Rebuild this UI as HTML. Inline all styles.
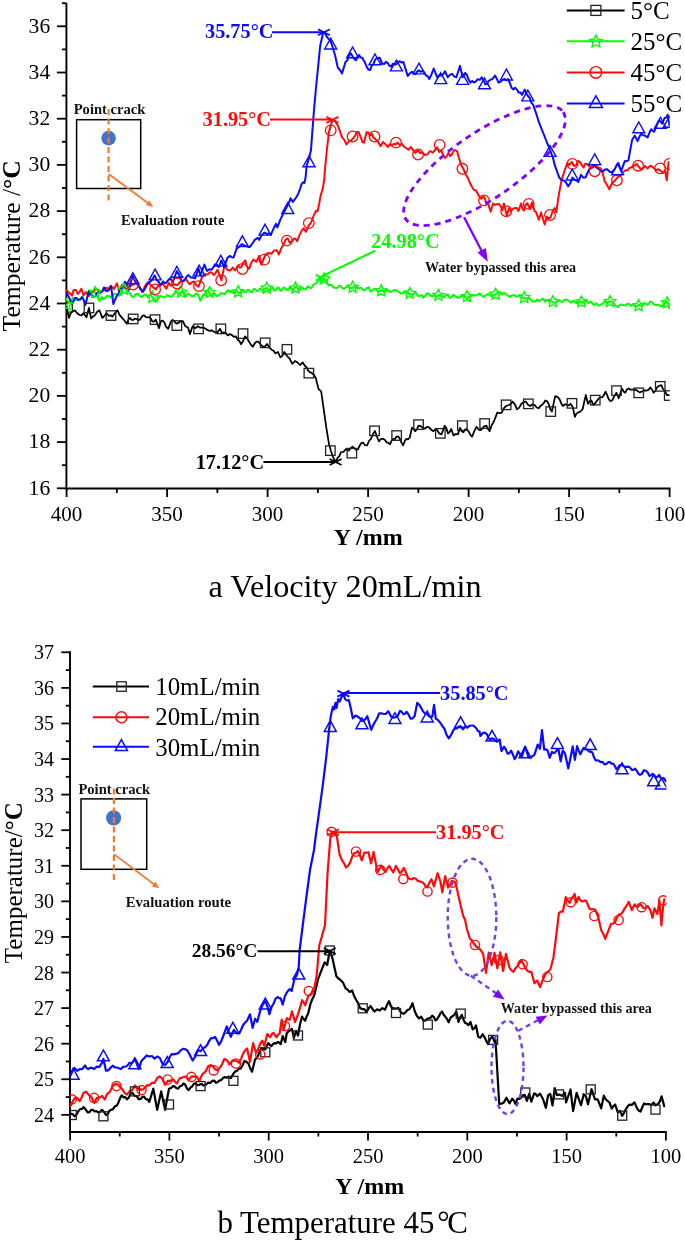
<!DOCTYPE html>
<html><head><meta charset="utf-8"><title>Temperature charts</title>
<style>html,body{margin:0;padding:0;background:#fff;}svg{display:block;}</style></head>
<body>
<svg width="685" height="1240" viewBox="0 0 685 1240" font-family="'Liberation Serif', 'Times New Roman', serif">
<rect width="685" height="1240" fill="#fff"/>
<line x1="66.4" y1="3.1" x2="66.4" y2="489.5" stroke="#000" stroke-width="1.9" />
<line x1="65.4" y1="488.5" x2="670.5" y2="488.5" stroke="#000" stroke-width="1.9" />
<line x1="56.9" y1="488.3" x2="66.4" y2="488.3" stroke="#000" stroke-width="1.8" />
<text x="50.2" y="494.6" font-size="21.6" text-anchor="end" font-weight="normal" fill="#000" >16</text>
<line x1="61.9" y1="465.2" x2="66.4" y2="465.2" stroke="#000" stroke-width="1.8" />
<line x1="56.9" y1="442.1" x2="66.4" y2="442.1" stroke="#000" stroke-width="1.8" />
<text x="50.2" y="448.4" font-size="21.6" text-anchor="end" font-weight="normal" fill="#000" >18</text>
<line x1="61.9" y1="419.0" x2="66.4" y2="419.0" stroke="#000" stroke-width="1.8" />
<line x1="56.9" y1="395.9" x2="66.4" y2="395.9" stroke="#000" stroke-width="1.8" />
<text x="50.2" y="402.2" font-size="21.6" text-anchor="end" font-weight="normal" fill="#000" >20</text>
<line x1="61.9" y1="372.8" x2="66.4" y2="372.8" stroke="#000" stroke-width="1.8" />
<line x1="56.9" y1="349.7" x2="66.4" y2="349.7" stroke="#000" stroke-width="1.8" />
<text x="50.2" y="356.0" font-size="21.6" text-anchor="end" font-weight="normal" fill="#000" >22</text>
<line x1="61.9" y1="326.6" x2="66.4" y2="326.6" stroke="#000" stroke-width="1.8" />
<line x1="56.9" y1="303.5" x2="66.4" y2="303.5" stroke="#000" stroke-width="1.8" />
<text x="50.2" y="309.8" font-size="21.6" text-anchor="end" font-weight="normal" fill="#000" >24</text>
<line x1="61.9" y1="280.4" x2="66.4" y2="280.4" stroke="#000" stroke-width="1.8" />
<line x1="56.9" y1="257.3" x2="66.4" y2="257.3" stroke="#000" stroke-width="1.8" />
<text x="50.2" y="263.6" font-size="21.6" text-anchor="end" font-weight="normal" fill="#000" >26</text>
<line x1="61.9" y1="234.2" x2="66.4" y2="234.2" stroke="#000" stroke-width="1.8" />
<line x1="56.9" y1="211.1" x2="66.4" y2="211.1" stroke="#000" stroke-width="1.8" />
<text x="50.2" y="217.4" font-size="21.6" text-anchor="end" font-weight="normal" fill="#000" >28</text>
<line x1="61.9" y1="188.0" x2="66.4" y2="188.0" stroke="#000" stroke-width="1.8" />
<line x1="56.9" y1="164.9" x2="66.4" y2="164.9" stroke="#000" stroke-width="1.8" />
<text x="50.2" y="171.2" font-size="21.6" text-anchor="end" font-weight="normal" fill="#000" >30</text>
<line x1="61.9" y1="141.8" x2="66.4" y2="141.8" stroke="#000" stroke-width="1.8" />
<line x1="56.9" y1="118.7" x2="66.4" y2="118.7" stroke="#000" stroke-width="1.8" />
<text x="50.2" y="125.0" font-size="21.6" text-anchor="end" font-weight="normal" fill="#000" >32</text>
<line x1="61.9" y1="95.6" x2="66.4" y2="95.6" stroke="#000" stroke-width="1.8" />
<line x1="56.9" y1="72.5" x2="66.4" y2="72.5" stroke="#000" stroke-width="1.8" />
<text x="50.2" y="78.8" font-size="21.6" text-anchor="end" font-weight="normal" fill="#000" >34</text>
<line x1="61.9" y1="49.4" x2="66.4" y2="49.4" stroke="#000" stroke-width="1.8" />
<line x1="56.9" y1="26.3" x2="66.4" y2="26.3" stroke="#000" stroke-width="1.8" />
<text x="50.2" y="32.6" font-size="21.6" text-anchor="end" font-weight="normal" fill="#000" >36</text>
<line x1="61.9" y1="3.2" x2="66.4" y2="3.2" stroke="#000" stroke-width="1.8" />
<line x1="669.6" y1="488.5" x2="669.6" y2="497.0" stroke="#000" stroke-width="1.8" />
<text x="669.6" y="520.6" font-size="21" text-anchor="middle" font-weight="normal" fill="#000" >100</text>
<line x1="619.35" y1="488.5" x2="619.35" y2="493.0" stroke="#000" stroke-width="1.8" />
<line x1="569.1" y1="488.5" x2="569.1" y2="497.0" stroke="#000" stroke-width="1.8" />
<text x="569.1" y="520.6" font-size="21" text-anchor="middle" font-weight="normal" fill="#000" >150</text>
<line x1="518.85" y1="488.5" x2="518.85" y2="493.0" stroke="#000" stroke-width="1.8" />
<line x1="468.6" y1="488.5" x2="468.6" y2="497.0" stroke="#000" stroke-width="1.8" />
<text x="468.6" y="520.6" font-size="21" text-anchor="middle" font-weight="normal" fill="#000" >200</text>
<line x1="418.35" y1="488.5" x2="418.35" y2="493.0" stroke="#000" stroke-width="1.8" />
<line x1="368.1" y1="488.5" x2="368.1" y2="497.0" stroke="#000" stroke-width="1.8" />
<text x="368.1" y="520.6" font-size="21" text-anchor="middle" font-weight="normal" fill="#000" >250</text>
<line x1="317.85" y1="488.5" x2="317.85" y2="493.0" stroke="#000" stroke-width="1.8" />
<line x1="267.6" y1="488.5" x2="267.6" y2="497.0" stroke="#000" stroke-width="1.8" />
<text x="267.6" y="520.6" font-size="21" text-anchor="middle" font-weight="normal" fill="#000" >300</text>
<line x1="217.35" y1="488.5" x2="217.35" y2="493.0" stroke="#000" stroke-width="1.8" />
<line x1="167.1" y1="488.5" x2="167.1" y2="497.0" stroke="#000" stroke-width="1.8" />
<text x="167.1" y="520.6" font-size="21" text-anchor="middle" font-weight="normal" fill="#000" >350</text>
<line x1="116.85" y1="488.5" x2="116.85" y2="493.0" stroke="#000" stroke-width="1.8" />
<line x1="66.6" y1="488.5" x2="66.6" y2="497.0" stroke="#000" stroke-width="1.8" />
<text x="66.6" y="520.6" font-size="21" text-anchor="middle" font-weight="normal" fill="#000" >400</text>
<text x="368.2" y="544.8" font-size="24" text-anchor="middle" font-weight="bold" fill="#000" >Y /mm</text>
<text x="345" y="596.5" font-size="32.2" text-anchor="middle" font-weight="normal" fill="#000" >a Velocity 20mL/min</text>
<text transform="translate(19.5,245.8) rotate(-90)" font-size="25.6" text-anchor="middle">Temperature /<tspan font-weight="bold">°C</tspan></text>
<defs><clipPath id="ct"><rect x="66" y="0" width="603.8" height="489"/></clipPath><clipPath id="cb"><rect x="70" y="640" width="596.4" height="492"/></clipPath></defs>
<g clip-path="url(#ct)">
<polyline points="66.7,307.4 69.0,317.9 70.5,313.7 72.0,312.0 74.8,310.3 77.0,313.0 79.5,315.0 81.5,315.4 83.6,313.2 86.5,317.3 88.9,308.0 91.2,318.5 93.0,316.6 94.7,315.6 97.0,312.0 99.4,310.3 102.3,317.9 104.3,316.0 106.4,313.2 109.0,316.0 110.6,315.2 112.2,316.7 115.0,313.0 117.5,310.3 119.5,314.9 121.6,317.3 124.0,320.0 126.8,323.7 128.3,319.8 129.8,317.9 131.4,319.6 133.0,320.0 134.9,318.6 136.8,319.0 138.4,320.2 140.0,319.6 142.6,315.7 144.2,315.4 145.9,317.0 147.6,317.5 149.2,317.0 150.8,318.5 152.5,321.6 154.2,321.3 155.8,319.6 159.0,328.2 161.0,321.0 162.7,320.6 164.3,322.3 166.2,326.8 168.2,328.8 170.9,321.6 172.6,320.0 174.2,321.0 175.8,323.2 177.4,323.6 179.4,322.3 181.1,320.9 182.7,321.0 185.3,326.2 188.0,327.5 189.9,334.1 192.6,326.2 195.2,328.2 197.8,326.2 199.8,327.5 201.8,327.5 203.8,327.7 205.7,328.8 207.6,330.2 209.6,330.8 211.6,330.3 213.6,331.5 215.6,332.5 217.5,332.1 220.1,328.8 222.1,333.4 223.8,332.4 225.4,332.8 228.0,335.4 230.0,334.1 231.8,335.0 233.8,336.9 235.8,336.3 238.0,340.0 239.5,341.2 241.0,344.2 243.0,341.2 245.0,336.3 246.9,338.3 248.9,341.5 250.9,344.6 252.8,346.8 255.0,343.0 256.6,341.6 258.1,341.5 261.0,345.0 262.9,346.4 264.7,346.8 267.0,344.0 269.9,348.1 272.0,350.0 273.6,350.8 275.2,353.4 278.0,352.0 280.4,357.3 282.4,355.9 284.4,352.0 287.0,356.0 289.6,358.6 292.3,363.9 295.0,361.0 297.5,362.5 300.0,365.0 302.8,362.5 305.0,366.0 306.5,367.2 308.0,370.4 310.0,372.3 312.0,373.1 314.0,375.0 315.9,378.3 317.0,383.0 318.5,388.8 321.2,391.5 323.8,409.8 326.4,428.2 329.0,444.0 331.0,451.0 333.0,457.1 335.6,461.9 337.5,458.0 339.5,455.8 341.0,452.0 343.5,451.9 346.0,449.0 348.7,450.6 351.0,448.0 352.5,446.7 354.0,447.9 355.9,449.7 357.9,449.3 360.0,445.0 361.6,442.8 363.2,442.7 365.1,445.2 367.1,445.3 369.0,441.0 371.1,438.7 373.0,434.0 375.0,430.9 377.0,437.0 379.0,441.4 380.9,439.0 382.9,438.7 385.0,440.0 386.6,442.5 388.2,442.7 390.0,444.3 391.6,440.8 393.3,438.8 395.0,439.0 396.6,436.6 398.2,436.4 399.9,438.8 401.5,442.6 403.1,445.4 404.8,441.0 406.4,438.8 408.0,439.3 409.7,437.7 411.9,427.9 413.5,428.7 415.2,431.2 416.9,429.3 418.5,425.7 420.6,426.0 422.8,427.9 425.0,428.6 427.2,426.8 429.4,427.6 431.6,430.1 433.4,431.2 435.3,429.4 437.1,430.1 439.3,433.4 441.5,434.4 444.7,425.7 446.4,428.3 448.0,433.4 449.6,432.0 451.3,429.0 453.5,435.5 455.7,434.0 457.9,434.4 460.1,427.9 461.8,431.3 463.4,432.3 465.0,429.6 466.6,429.0 469.0,432.0 470.6,435.1 472.1,436.6 474.3,431.1 476.5,426.8 479.0,430.0 480.5,430.2 482.0,429.0 484.1,426.3 486.3,425.7 488.0,429.0 489.6,431.2 491.8,425.0 494.0,421.3 497.3,412.6 499.5,413.2 501.7,412.6 503.9,408.1 506.1,406.0 509.0,405.0 510.8,404.0 512.6,401.6 514.8,404.2 517.0,409.3 519.2,407.6 521.4,403.8 523.6,401.9 525.8,401.6 528.0,404.7 530.1,406.0 532.2,404.5 534.4,404.9 536.6,407.5 538.8,408.2 540.4,405.9 542.0,404.9 543.6,403.3 545.3,400.5 547.0,401.3 548.6,403.8 550.2,408.9 551.9,411.5 555.2,396.1 557.4,396.8 559.6,399.4 561.2,403.2 562.8,406.0 565.0,404.3 567.2,404.9 568.9,405.4 570.5,403.8 572.7,407.1 574.9,416.9 576.5,413.5 578.2,412.6 580.4,411.5 582.6,409.3 585.8,395.0 588.0,403.8 589.6,401.1 591.3,400.5 593.5,404.9 595.7,402.6 597.9,399.4 600.1,397.3 602.3,397.2 603.9,395.1 605.5,391.7 607.1,395.0 608.8,399.4 610.5,401.1 612.1,400.5 614.3,396.2 616.5,392.8 618.7,398.3 622.0,388.5 623.6,391.5 625.2,392.8 626.9,389.5 628.5,388.5 630.7,389.7 632.9,389.6 635.1,389.6 637.3,390.7 639.5,392.4 641.7,391.7 643.9,390.4 646.0,390.7 648.2,390.1 650.4,387.4 652.0,389.7 653.7,392.8 655.4,390.8 657.0,387.4 659.2,385.8 661.4,385.2 663.0,389.0 664.7,390.7 666.9,395.0 669.0,395.0" fill="none" stroke="#000" stroke-width="1.75" stroke-linejoin="round" stroke-linecap="round" />
<polyline points="66.5,305.0 68.3,302.2 70.2,301.0 73.0,298.0 74.5,300.2 76.0,300.0 77.8,298.6 79.5,299.2 81.2,298.9 83.0,296.0 84.8,293.4 86.5,293.4 88.2,294.8 90.0,295.0 92.3,292.7 94.7,291.6 97.0,296.0 99.4,301.0 102.0,297.0 103.5,299.1 105.0,298.0 106.8,296.0 108.7,295.7 110.3,297.2 112.0,297.0 114.0,293.7 116.0,294.0 118.2,295.7 120.4,295.1 122.0,292.0 123.5,288.2 125.0,287.5 126.5,290.9 128.0,292.0 130.0,293.1 132.0,296.9 134.0,296.2 136.0,294.0 138.0,293.7 140.0,296.0 141.9,297.0 143.9,294.7 145.9,294.8 147.9,297.3 150.5,294.0 153.1,298.6 155.1,301.1 157.1,300.6 159.1,296.9 161.0,296.0 163.0,297.3 165.0,297.3 166.9,295.2 168.9,296.0 170.9,296.9 172.8,295.3 175.5,292.0 177.4,292.4 179.4,294.7 182.0,290.7 184.0,293.9 186.0,296.0 187.9,293.7 189.9,294.7 191.9,296.5 193.9,296.0 195.9,293.6 197.8,294.0 200.4,300.6 203.1,294.7 204.8,295.0 206.6,290.6 208.3,290.7 209.9,294.7 211.6,295.3 213.2,293.6 214.9,294.0 216.9,296.2 218.8,295.3 220.8,293.2 222.8,293.4 224.8,294.1 226.7,291.4 228.3,290.1 230.0,292.0 231.0,291.0 232.5,292.7 234.0,293.0 235.5,291.3 237.0,291.0 238.5,292.8 240.0,293.0 241.5,289.7 243.0,290.0 244.5,292.1 246.0,292.0 247.5,289.7 249.0,290.0 250.5,291.9 252.0,292.0 253.5,289.3 255.0,289.0 256.5,291.0 258.0,291.0 259.5,289.0 261.0,289.0 262.5,291.3 264.0,291.0 265.5,288.2 267.0,288.0 268.5,290.7 270.0,290.0 271.5,287.6 273.0,288.0 274.5,290.7 276.0,290.0 277.5,287.4 279.0,288.0 280.5,290.8 282.0,290.0 283.5,287.6 285.0,288.0 286.5,289.7 288.0,290.0 289.5,287.4 291.0,288.0 292.5,290.3 294.0,289.0 295.5,286.3 297.0,287.0 298.5,289.8 300.0,290.0 301.5,287.6 303.0,288.0 304.5,289.3 306.0,289.0 307.5,286.4 309.0,287.0 310.5,288.3 312.0,287.0 313.5,284.6 315.0,284.0 316.5,283.1 318.0,281.0 319.5,278.9 321.0,280.0 322.5,281.3 324.0,279.0 325.5,280.3 327.0,283.0 328.5,285.5 330.0,285.0 331.5,284.9 333.0,287.0 335.8,288.1 337.4,287.8 339.0,286.0 340.5,286.1 342.0,288.0 344.1,288.9 346.3,286.7 348.1,285.7 350.0,288.0 352.0,288.1 354.0,287.0 355.8,286.1 357.6,288.3 359.4,288.1 361.2,287.6 363.0,290.0 365.0,290.0 367.0,288.0 368.8,287.3 370.7,291.6 372.5,290.7 374.2,288.7 376.0,289.0 378.0,291.8 380.0,291.0 381.9,290.0 383.8,291.4 385.7,290.7 387.9,290.1 390.0,292.0 392.0,291.6 394.0,290.0 396.4,290.2 398.8,292.0 400.9,293.6 403.0,293.0 405.0,291.2 407.0,292.0 409.5,294.0 412.0,294.6 414.0,293.2 416.0,293.0 418.0,296.1 420.0,296.0 421.7,295.0 423.4,297.7 425.1,295.9 427.1,293.3 429.0,294.0 431.0,296.0 433.0,296.0 434.7,294.7 436.5,296.8 438.2,295.4 440.1,294.8 442.0,297.0 444.0,297.3 446.0,295.0 447.8,294.5 449.6,297.9 451.4,297.3 453.2,294.9 455.0,296.0 457.5,297.7 460.0,297.0 462.2,295.4 464.5,295.9 466.8,297.9 469.0,297.0 471.0,295.2 473.0,295.0 475.3,295.7 477.6,294.6 479.8,293.5 482.0,296.0 484.0,296.7 486.0,295.0 488.4,294.2 490.8,295.9 493.2,295.6 495.7,294.2 497.9,292.5 500.0,293.0 502.1,294.2 504.2,292.8 507.0,295.0 509.9,297.0 511.9,295.4 514.0,295.0 516.2,296.6 518.5,295.6 520.2,295.0 522.0,297.0 524.5,298.4 527.0,298.5 529.0,297.9 531.0,300.0 533.2,301.8 535.5,301.3 537.3,299.5 539.2,301.4 541.0,300.0 543.0,298.5 544.9,301.4 546.9,299.9 549.0,299.9 551.0,301.0 553.2,302.5 555.5,302.7 557.8,300.5 560.0,301.0 562.0,302.2 564.0,299.9 566.5,299.6 569.0,301.0 571.1,302.7 573.3,300.8 575.4,302.7 577.3,303.4 579.1,301.2 581.0,302.0 582.9,302.7 584.9,300.5 586.8,301.3 588.5,303.2 590.3,301.5 592.0,303.0 594.1,304.9 596.1,303.2 598.2,305.6 600.6,304.9 603.0,303.0 605.2,301.2 607.4,303.3 609.6,301.3 611.8,301.7 614.0,304.0 616.0,306.3 618.1,307.0 620.5,304.4 623.0,305.0 625.2,305.6 627.3,303.7 629.5,304.2 631.3,305.9 633.2,304.0 635.0,306.0 637.0,306.5 638.9,304.8 640.9,305.6 642.6,306.0 644.3,302.9 646.0,304.0 648.1,304.7 650.2,301.5 652.3,302.7 654.1,304.6 656.0,305.0 658.4,304.7 660.8,306.4 662.4,306.6 664.0,304.0 666.0,301.7 667.9,302.7 669.3,308.4" fill="none" stroke="#00ff00" stroke-width="2.0" stroke-linejoin="round" stroke-linecap="round" />
<polyline points="66.7,290.4 69.0,293.0 70.5,293.7 72.0,295.7 73.7,289.9 76.0,290.0 78.0,294.0 79.7,291.8 81.3,288.7 83.6,295.1 86.0,292.0 88.9,296.0 90.5,293.2 92.0,292.0 93.5,291.0 95.0,289.0 97.2,289.4 99.4,290.7 101.7,291.1 104.0,290.0 106.0,287.7 107.9,289.0 109.9,286.8 112.0,286.8 114.0,289.0 116.9,283.4 119.2,291.0 122.0,285.0 124.0,286.0 126.2,288.3 128.3,289.4 130.2,286.3 132.0,285.0 134.1,284.5 136.2,282.8 138.1,284.9 140.0,288.1 142.6,292.0 145.3,285.5 147.9,282.2 150.5,284.8 153.1,287.4 155.8,289.4 158.4,285.5 160.4,285.0 162.3,283.5 164.3,285.6 166.3,288.8 168.9,282.8 170.6,285.4 172.2,285.5 173.8,284.0 175.5,284.8 177.4,284.9 179.4,282.8 181.4,280.7 183.4,280.9 186.0,278.9 187.9,282.1 189.9,284.2 191.9,282.2 193.9,281.5 196.2,285.1 198.5,286.8 201.8,277.6 203.8,274.9 205.7,274.3 207.6,274.5 209.6,272.3 211.6,272.5 213.6,275.0 215.6,272.8 217.5,269.7 221.5,280.2 224.1,267.1 225.8,267.5 227.4,269.7 230.0,270.5 232.9,267.6 235.1,270.5 238.0,265.4 239.5,267.5 241.0,267.6 243.1,263.2 245.3,260.3 246.8,266.1 249.0,269.0 251.2,263.2 253.4,259.6 256.3,261.8 259.2,255.9 261.4,264.7 263.6,258.8 265.8,254.5 268.7,253.0 271.6,253.7 273.8,250.8 276.7,250.1 278.9,254.5 281.1,248.6 283.3,245.0 285.5,239.9 287.7,238.4 289.9,242.8 292.0,241.3 294.2,238.4 295.7,239.0 297.2,241.3 299.3,235.5 301.5,231.1 303.7,228.2 305.9,231.8 308.8,225.3 310.3,223.7 311.8,220.9 313.9,215.0 316.1,210.7 317.6,211.4 319.0,204.8 320.5,196.1 322.7,188.8 324.2,180.0 325.1,167.5 326.9,150.0 328.9,132.1 331.5,123.4 332.4,119.9 335.0,121.0 337.7,125.1 340.0,131.0 342.0,137.4 344.2,139.6 346.4,144.4 349.0,141.0 350.8,140.8 352.6,139.1 355.0,136.0 356.9,132.1 358.7,132.1 361.0,138.0 362.5,142.1 364.0,142.6 366.6,132.1 368.3,132.5 370.0,135.6 372.0,134.0 373.6,137.6 375.3,139.1 378.0,142.0 380.6,146.1 383.0,142.0 385.8,144.4 388.0,147.0 389.6,144.3 391.1,145.3 394.0,144.0 395.6,144.7 397.2,142.6 400.0,145.0 401.7,143.7 403.4,146.1 406.0,148.0 408.6,149.6 411.0,147.0 413.9,151.4 415.4,152.9 417.0,150.9 418.5,150.6 420.0,153.0 422.3,152.6 425.0,155.0 427.5,154.4 430.0,151.0 432.8,152.6 435.0,150.0 437.2,147.4 439.0,152.0 441.5,150.9 443.0,155.0 445.0,157.9 446.8,156.4 448.5,152.6 450.0,156.0 452.0,154.4 453.5,150.8 455.0,150.0 457.2,151.3 459.0,158.0 461.5,165.9 463.0,168.0 465.9,174.7 468.0,178.0 469.9,183.0 471.8,186.4 474.0,190.0 475.8,190.4 477.6,193.3 480.0,197.9 481.5,198.8 483.0,196.6 484.7,197.8 486.4,204.2 488.0,203.1 490.7,211.7 493.0,203.5 494.8,204.9 496.6,204.3 499.0,204.0 500.7,206.2 502.4,210.4 504.0,203.6 506.8,215.7 509.0,208.6 510.8,211.1 512.6,209.1 515.0,207.9 516.8,208.0 518.5,211.0 521.0,203.5 522.5,209.0 524.0,210.5 525.6,205.0 527.2,203.2 530.0,209.0 532.0,202.6 534.5,211.0 536.0,212.1 538.9,219.8 541.0,212.5 544.7,224.4 547.0,216.7 548.8,218.6 550.6,217.3 553.0,210.2 554.7,208.1 556.4,212.0 558.0,200.0 559.3,192.2 561.0,183.0 562.3,177.6 565.2,168.8 567.3,163.0 569.0,165.0 571.9,162.0 574.0,166.0 576.4,164.8 578.0,161.0 580.0,162.0 581.9,165.3 583.7,167.5 585.0,164.0 587.4,163.9 590.0,167.0 592.8,167.5 595.0,165.0 597.4,167.5 600.0,168.0 602.0,170.3 604.7,181.2 607.0,185.0 609.3,189.4 611.1,185.0 612.9,182.1 614.8,180.9 616.6,178.5 619.0,176.0 621.1,174.8 623.0,172.0 625.7,170.3 628.0,170.0 629.6,167.8 631.2,167.5 634.0,166.0 636.6,163.9 639.0,167.0 640.5,168.8 642.1,169.3 645.0,166.0 647.6,168.4 650.0,166.0 651.5,166.0 653.1,167.5 656.0,170.0 658.5,169.3 661.0,171.0 663.1,173.0 665.0,170.0 666.8,180.3 668.6,162.0" fill="none" stroke="#ff0a0a" stroke-width="2.0" stroke-linejoin="round" stroke-linecap="round" />
<polyline points="66.5,293.0 69.0,297.0 71.9,304.5 74.8,298.0 76.4,298.0 78.0,300.0 80.0,299.6 82.0,297.0 83.7,299.9 85.4,305.0 88.9,290.4 91.0,294.0 93.5,296.9 95.2,296.2 97.0,293.0 98.8,291.8 100.5,292.8 102.2,291.4 104.0,287.5 106.0,291.0 108.7,290.4 111.0,285.8 113.4,304.0 115.2,299.4 116.9,295.7 118.5,293.7 120.0,290.0 122.5,287.0 125.0,281.7 126.8,284.6 128.6,289.9 132.7,275.8 134.8,280.9 136.8,284.0 138.4,284.8 140.0,288.1 142.6,292.0 144.6,289.2 146.6,285.5 148.6,282.7 150.5,281.5 152.5,279.2 154.5,275.6 157.1,280.2 158.8,282.0 160.4,285.5 163.0,281.5 164.7,283.1 166.3,282.8 168.2,280.1 170.2,278.2 172.8,282.2 176.8,271.0 179.4,275.6 182.0,281.5 183.7,280.8 185.3,278.9 186.9,276.3 188.6,275.0 190.6,277.5 192.6,277.6 195.2,278.2 198.5,268.4 200.4,275.6 204.4,264.5 207.0,271.0 209.3,269.3 211.6,269.7 213.2,267.6 214.9,264.5 216.9,264.7 218.8,267.1 221.5,260.5 224.1,267.1 227.4,257.9 230.0,255.9 231.8,257.2 233.6,257.4 236.6,248.6 239.5,246.4 241.7,244.2 244.6,245.7 246.8,246.4 249.7,247.2 251.9,244.2 254.8,239.9 257.7,237.7 259.2,239.9 261.4,235.5 264.3,232.6 267.2,234.0 269.0,233.4 270.9,234.7 273.8,228.2 276.0,223.8 277.4,227.4 280.4,219.4 282.6,215.0 285.5,209.2 288.4,204.1 290.6,198.2 292.8,201.9 295.7,198.2 297.9,194.6 300.1,188.8 301.5,184.4 303.0,182.2 304.5,182.9 305.5,178.0 306.7,165.8 309.3,157.0 311.0,150.0 312.3,132.1 314.0,110.0 315.8,90.0 318.4,63.8 320.1,46.3 322.8,34.0 324.5,32.3 326.3,35.8 328.5,38.9 330.7,41.0 335.0,55.0 337.7,67.3 339.9,70.0 342.0,73.4 345.5,62.0 347.3,60.3 349.0,55.6 350.8,53.3 353.0,57.0 354.5,59.2 356.0,60.3 357.5,56.4 359.0,55.0 360.6,57.5 362.2,57.7 364.4,61.4 366.6,66.4 368.3,69.5 370.0,70.0 371.8,65.6 373.5,63.9 375.3,59.4 377.5,58.0 379.7,57.7 382.3,63.8 384.1,64.1 386.0,62.0 387.6,62.8 389.3,65.6 391.1,66.6 392.8,63.8 394.6,64.7 396.3,64.0 398.0,62.0 399.8,61.3 401.6,62.5 403.4,62.0 407.7,76.0 409.9,73.3 412.0,71.7 413.8,73.4 415.6,74.3 417.2,71.6 418.8,70.3 420.5,71.8 422.3,71.0 424.0,72.0 425.8,75.3 427.5,76.0 429.3,79.0 431.5,74.4 433.7,68.5 437.2,77.3 439.4,75.3 441.5,75.5 443.2,74.2 445.0,71.2 447.7,77.3 449.9,74.9 452.0,73.8 454.2,76.4 456.4,77.3 460.0,65.9 462.6,77.3 465.2,72.9 466.9,75.1 468.7,79.8 470.4,82.6 472.2,81.0 473.9,82.4 475.7,81.7 477.7,79.2 479.8,79.9 481.8,77.3 483.6,80.4 485.3,84.3 487.1,83.9 488.8,80.6 490.6,79.9 492.8,78.6 495.0,75.5 496.8,78.7 498.5,82.6 500.5,81.8 502.6,79.6 504.6,79.0 506.3,80.3 508.0,79.0 509.8,82.8 511.6,87.8 513.4,89.5 515.1,87.8 516.9,89.6 518.6,92.6 520.4,92.4 522.1,94.8 524.8,89.6 526.4,93.5 528.0,96.0 529.7,98.0 531.4,102.8 533.1,104.6 536.0,113.0 538.9,122.1 542.0,130.0 544.7,136.7 547.5,144.0 549.0,147.2 550.6,151.3 553.0,158.0 555.0,165.9 559.3,177.6 561.5,180.1 563.7,180.5 565.9,182.3 568.1,186.4 570.3,183.2 572.5,177.6 575.0,180.0 576.6,180.6 578.3,182.0 581.0,174.8 583.2,177.5 585.5,177.6 587.4,173.0 589.2,169.3 591.0,168.2 592.8,165.7 594.6,165.7 596.5,167.5 599.2,169.3 601.0,171.5 602.9,171.2 605.1,169.6 607.4,169.3 609.7,171.9 612.0,172.1 614.7,169.3 616.5,165.3 618.4,163.0 621.1,171.2 624.8,161.1 626.6,161.3 628.4,160.2 632.1,140.1 634.8,135.6 637.6,141.1 639.4,136.8 641.2,133.8 643.0,135.3 644.9,135.6 647.6,137.4 649.4,132.8 651.2,129.2 654.0,131.9 656.2,127.0 658.5,121.0 660.4,121.3 662.2,123.7 664.5,118.0 666.1,117.6 667.7,114.6 669.5,125.5" fill="none" stroke="#0a0aff" stroke-width="2.0" stroke-linejoin="round" stroke-linecap="round" />
<rect x="62.8" y="302.6" width="9.5" height="9.5" fill="none" stroke="#222" stroke-width="1.3"/>
<rect x="84.2" y="303.2" width="9.5" height="9.5" fill="none" stroke="#222" stroke-width="1.3"/>
<rect x="106.2" y="310.8" width="9.5" height="9.5" fill="none" stroke="#222" stroke-width="1.3"/>
<rect x="128.4" y="314.2" width="9.5" height="9.5" fill="none" stroke="#222" stroke-width="1.3"/>
<rect x="150.3" y="314.9" width="9.5" height="9.5" fill="none" stroke="#222" stroke-width="1.3"/>
<rect x="172.1" y="320.8" width="9.5" height="9.5" fill="none" stroke="#222" stroke-width="1.3"/>
<rect x="193.8" y="324.1" width="9.5" height="9.5" fill="none" stroke="#222" stroke-width="1.3"/>
<rect x="216.1" y="324.1" width="9.5" height="9.5" fill="none" stroke="#222" stroke-width="1.3"/>
<rect x="238.3" y="328.9" width="9.5" height="9.5" fill="none" stroke="#222" stroke-width="1.3"/>
<rect x="260.4" y="338.1" width="9.5" height="9.5" fill="none" stroke="#222" stroke-width="1.3"/>
<rect x="282.2" y="344.6" width="9.5" height="9.5" fill="none" stroke="#222" stroke-width="1.3"/>
<rect x="304.1" y="368.4" width="9.5" height="9.5" fill="none" stroke="#222" stroke-width="1.3"/>
<rect x="325.6" y="445.9" width="9.5" height="9.5" fill="none" stroke="#222" stroke-width="1.3"/>
<rect x="347.1" y="448.4" width="9.5" height="9.5" fill="none" stroke="#222" stroke-width="1.3"/>
<rect x="369.8" y="426.1" width="9.5" height="9.5" fill="none" stroke="#222" stroke-width="1.3"/>
<rect x="391.9" y="430.8" width="9.5" height="9.5" fill="none" stroke="#222" stroke-width="1.3"/>
<rect x="413.8" y="419.9" width="9.5" height="9.5" fill="none" stroke="#222" stroke-width="1.3"/>
<rect x="435.6" y="428.6" width="9.5" height="9.5" fill="none" stroke="#222" stroke-width="1.3"/>
<rect x="457.6" y="420.9" width="9.5" height="9.5" fill="none" stroke="#222" stroke-width="1.3"/>
<rect x="479.9" y="418.8" width="9.5" height="9.5" fill="none" stroke="#222" stroke-width="1.3"/>
<rect x="501.4" y="400.1" width="9.5" height="9.5" fill="none" stroke="#222" stroke-width="1.3"/>
<rect x="523.6" y="399.1" width="9.5" height="9.5" fill="none" stroke="#222" stroke-width="1.3"/>
<rect x="546.0" y="406.8" width="9.5" height="9.5" fill="none" stroke="#222" stroke-width="1.3"/>
<rect x="567.2" y="398.6" width="9.5" height="9.5" fill="none" stroke="#222" stroke-width="1.3"/>
<rect x="590.5" y="395.4" width="9.5" height="9.5" fill="none" stroke="#222" stroke-width="1.3"/>
<rect x="611.8" y="385.9" width="9.5" height="9.5" fill="none" stroke="#222" stroke-width="1.3"/>
<rect x="634.0" y="388.1" width="9.5" height="9.5" fill="none" stroke="#222" stroke-width="1.3"/>
<rect x="655.5" y="381.6" width="9.5" height="9.5" fill="none" stroke="#222" stroke-width="1.3"/>
<rect x="664.5" y="390.8" width="9.5" height="9.5" fill="none" stroke="#222" stroke-width="1.3"/>
<polygon points="66.6,298.9 68.4,302.5 72.3,303.0 69.5,305.8 70.1,309.7 66.6,307.9 63.1,309.7 63.7,305.8 60.9,303.0 64.8,302.5" fill="none" stroke="#00ff00" stroke-width="1.4" stroke-linejoin="miter"/>
<polygon points="95.2,286.6 97.0,290.1 100.9,290.7 98.1,293.5 98.7,297.4 95.2,295.6 91.7,297.4 92.3,293.5 89.5,290.7 93.4,290.1" fill="none" stroke="#00ff00" stroke-width="1.4" stroke-linejoin="miter"/>
<polygon points="123.8,283.3 125.6,286.9 129.5,287.4 126.7,290.2 127.3,294.2 123.8,292.3 120.3,294.2 120.9,290.2 118.1,287.4 122.0,286.9" fill="none" stroke="#00ff00" stroke-width="1.4" stroke-linejoin="miter"/>
<polygon points="152.4,291.4 154.2,294.9 158.1,295.5 155.3,298.3 155.9,302.2 152.4,300.4 148.9,302.2 149.5,298.3 146.7,295.5 150.6,294.9" fill="none" stroke="#00ff00" stroke-width="1.4" stroke-linejoin="miter"/>
<polygon points="181.0,286.2 182.8,289.8 186.7,290.4 183.9,293.2 184.5,297.1 181.0,295.2 177.5,297.1 178.1,293.2 175.3,290.4 179.2,289.8" fill="none" stroke="#00ff00" stroke-width="1.4" stroke-linejoin="miter"/>
<polygon points="209.6,286.5 211.4,290.1 215.3,290.7 212.5,293.4 213.1,297.4 209.6,295.5 206.1,297.4 206.7,293.4 203.9,290.7 207.8,290.1" fill="none" stroke="#00ff00" stroke-width="1.4" stroke-linejoin="miter"/>
<polygon points="238.2,285.8 240.0,289.4 243.9,289.9 241.1,292.7 241.7,296.7 238.2,294.8 234.7,296.7 235.3,292.7 232.5,289.9 236.4,289.4" fill="none" stroke="#00ff00" stroke-width="1.4" stroke-linejoin="miter"/>
<polygon points="266.8,282.2 268.6,285.8 272.5,286.3 269.7,289.1 270.3,293.1 266.8,291.2 263.3,293.1 263.9,289.1 261.1,286.3 265.0,285.8" fill="none" stroke="#00ff00" stroke-width="1.4" stroke-linejoin="miter"/>
<polygon points="295.4,282.1 297.2,285.6 301.1,286.2 298.3,289.0 298.9,292.9 295.4,291.1 291.9,292.9 292.5,289.0 289.7,286.2 293.6,285.6" fill="none" stroke="#00ff00" stroke-width="1.4" stroke-linejoin="miter"/>
<polygon points="324.0,273.0 325.8,276.6 329.7,277.1 326.9,279.9 327.5,283.9 324.0,282.0 320.5,283.9 321.1,279.9 318.3,277.1 322.2,276.6" fill="none" stroke="#00ff00" stroke-width="1.4" stroke-linejoin="miter"/>
<polygon points="352.6,281.4 354.4,284.9 358.3,285.5 355.5,288.3 356.1,292.2 352.6,290.4 349.1,292.2 349.7,288.3 346.9,285.5 350.8,284.9" fill="none" stroke="#00ff00" stroke-width="1.4" stroke-linejoin="miter"/>
<polygon points="381.2,284.9 383.0,288.5 386.9,289.1 384.1,291.9 384.7,295.8 381.2,293.9 377.7,295.8 378.3,291.9 375.5,289.1 379.4,288.5" fill="none" stroke="#00ff00" stroke-width="1.4" stroke-linejoin="miter"/>
<polygon points="409.8,287.5 411.6,291.0 415.5,291.6 412.7,294.4 413.3,298.3 409.8,296.5 406.3,298.3 406.9,294.4 404.1,291.6 408.0,291.0" fill="none" stroke="#00ff00" stroke-width="1.4" stroke-linejoin="miter"/>
<polygon points="438.4,289.5 440.2,293.1 444.1,293.6 441.3,296.4 441.9,300.3 438.4,298.5 434.9,300.3 435.5,296.4 432.7,293.6 436.6,293.1" fill="none" stroke="#00ff00" stroke-width="1.4" stroke-linejoin="miter"/>
<polygon points="467.0,290.5 468.8,294.1 472.7,294.7 469.9,297.4 470.5,301.4 467.0,299.5 463.5,301.4 464.1,297.4 461.3,294.7 465.2,294.1" fill="none" stroke="#00ff00" stroke-width="1.4" stroke-linejoin="miter"/>
<polygon points="495.6,288.2 497.4,291.8 501.3,292.4 498.5,295.2 499.1,299.1 495.6,297.2 492.1,299.1 492.7,295.2 489.9,292.4 493.8,291.8" fill="none" stroke="#00ff00" stroke-width="1.4" stroke-linejoin="miter"/>
<polygon points="524.2,291.7 526.0,295.2 529.9,295.8 527.1,298.6 527.7,302.5 524.2,300.7 520.7,302.5 521.3,298.6 518.5,295.8 522.4,295.2" fill="none" stroke="#00ff00" stroke-width="1.4" stroke-linejoin="miter"/>
<polygon points="552.8,295.7 554.6,299.3 558.5,299.8 555.7,302.6 556.3,306.5 552.8,304.7 549.3,306.5 549.9,302.6 547.1,299.8 551.0,299.3" fill="none" stroke="#00ff00" stroke-width="1.4" stroke-linejoin="miter"/>
<polygon points="581.4,296.0 583.2,299.5 587.1,300.1 584.3,302.9 584.9,306.8 581.4,305.0 577.9,306.8 578.5,302.9 575.7,300.1 579.6,299.5" fill="none" stroke="#00ff00" stroke-width="1.4" stroke-linejoin="miter"/>
<polygon points="610.0,295.5 611.8,299.1 615.7,299.7 612.9,302.5 613.5,306.4 610.0,304.5 606.5,306.4 607.1,302.5 604.3,299.7 608.2,299.1" fill="none" stroke="#00ff00" stroke-width="1.4" stroke-linejoin="miter"/>
<polygon points="638.6,299.8 640.4,303.3 644.3,303.9 641.5,306.7 642.1,310.6 638.6,308.8 635.1,310.6 635.7,306.7 632.9,303.9 636.8,303.3" fill="none" stroke="#00ff00" stroke-width="1.4" stroke-linejoin="miter"/>
<polygon points="667.2,296.9 669.0,300.5 672.9,301.1 670.1,303.9 670.7,307.8 667.2,305.9 663.7,307.8 664.3,303.9 661.5,301.1 665.4,300.5" fill="none" stroke="#00ff00" stroke-width="1.4" stroke-linejoin="miter"/>
<circle cx="133.0" cy="284.5" r="5.3" fill="none" stroke="#ff0a0a" stroke-width="1.3"/>
<circle cx="155.1" cy="289.4" r="5.3" fill="none" stroke="#ff0a0a" stroke-width="1.3"/>
<circle cx="177.1" cy="283.5" r="5.3" fill="none" stroke="#ff0a0a" stroke-width="1.3"/>
<circle cx="198.9" cy="286.1" r="5.3" fill="none" stroke="#ff0a0a" stroke-width="1.3"/>
<circle cx="221.2" cy="280.2" r="5.3" fill="none" stroke="#ff0a0a" stroke-width="1.3"/>
<circle cx="242.4" cy="269.0" r="5.3" fill="none" stroke="#ff0a0a" stroke-width="1.3"/>
<circle cx="264.3" cy="259.6" r="5.3" fill="none" stroke="#ff0a0a" stroke-width="1.3"/>
<circle cx="286.9" cy="240.6" r="5.3" fill="none" stroke="#ff0a0a" stroke-width="1.3"/>
<circle cx="308.8" cy="223.1" r="5.3" fill="none" stroke="#ff0a0a" stroke-width="1.3"/>
<circle cx="330.7" cy="130.4" r="5.3" fill="none" stroke="#ff0a0a" stroke-width="1.3"/>
<circle cx="352.6" cy="136.5" r="5.3" fill="none" stroke="#ff0a0a" stroke-width="1.3"/>
<circle cx="374.5" cy="136.5" r="5.3" fill="none" stroke="#ff0a0a" stroke-width="1.3"/>
<circle cx="396.0" cy="142.6" r="5.3" fill="none" stroke="#ff0a0a" stroke-width="1.3"/>
<circle cx="418.0" cy="154.5" r="5.3" fill="none" stroke="#ff0a0a" stroke-width="1.3"/>
<circle cx="439.6" cy="144.9" r="5.3" fill="none" stroke="#ff0a0a" stroke-width="1.3"/>
<circle cx="462.4" cy="168.8" r="5.3" fill="none" stroke="#ff0a0a" stroke-width="1.3"/>
<circle cx="484.0" cy="200.4" r="5.3" fill="none" stroke="#ff0a0a" stroke-width="1.3"/>
<circle cx="506.2" cy="211.2" r="5.3" fill="none" stroke="#ff0a0a" stroke-width="1.3"/>
<circle cx="528.7" cy="203.9" r="5.3" fill="none" stroke="#ff0a0a" stroke-width="1.3"/>
<circle cx="550.0" cy="215.0" r="5.3" fill="none" stroke="#ff0a0a" stroke-width="1.3"/>
<circle cx="572.4" cy="163.9" r="5.3" fill="none" stroke="#ff0a0a" stroke-width="1.3"/>
<circle cx="594.7" cy="171.2" r="5.3" fill="none" stroke="#ff0a0a" stroke-width="1.3"/>
<circle cx="616.9" cy="180.3" r="5.3" fill="none" stroke="#ff0a0a" stroke-width="1.3"/>
<circle cx="638.1" cy="165.7" r="5.3" fill="none" stroke="#ff0a0a" stroke-width="1.3"/>
<circle cx="660.0" cy="168.4" r="5.3" fill="none" stroke="#ff0a0a" stroke-width="1.3"/>
<circle cx="669.3" cy="163.9" r="5.3" fill="none" stroke="#ff0a0a" stroke-width="1.3"/>
<polygon points="132.9,272.8 138.9,283.6 126.9,283.6" fill="none" stroke="#0a0aff" stroke-width="1.4" stroke-linejoin="miter"/>
<polygon points="155.1,269.1 161.1,279.9 149.1,279.9" fill="none" stroke="#0a0aff" stroke-width="1.4" stroke-linejoin="miter"/>
<polygon points="176.8,266.4 182.8,277.2 170.8,277.2" fill="none" stroke="#0a0aff" stroke-width="1.4" stroke-linejoin="miter"/>
<polygon points="199.1,265.1 205.1,275.9 193.1,275.9" fill="none" stroke="#0a0aff" stroke-width="1.4" stroke-linejoin="miter"/>
<polygon points="220.8,255.3 226.8,266.1 214.8,266.1" fill="none" stroke="#0a0aff" stroke-width="1.4" stroke-linejoin="miter"/>
<polygon points="242.4,235.8 248.4,246.6 236.4,246.6" fill="none" stroke="#0a0aff" stroke-width="1.4" stroke-linejoin="miter"/>
<polygon points="265.0,224.3 271.0,235.1 259.0,235.1" fill="none" stroke="#0a0aff" stroke-width="1.4" stroke-linejoin="miter"/>
<polygon points="287.7,202.7 293.7,213.5 281.7,213.5" fill="none" stroke="#0a0aff" stroke-width="1.4" stroke-linejoin="miter"/>
<polygon points="309.0,155.9 315.0,166.7 303.0,166.7" fill="none" stroke="#0a0aff" stroke-width="1.4" stroke-linejoin="miter"/>
<polygon points="330.7,38.2 336.7,49.0 324.7,49.0" fill="none" stroke="#0a0aff" stroke-width="1.4" stroke-linejoin="miter"/>
<polygon points="352.6,47.0 358.6,57.8 346.6,57.8" fill="none" stroke="#0a0aff" stroke-width="1.4" stroke-linejoin="miter"/>
<polygon points="375.0,54.0 381.0,64.8 369.0,64.8" fill="none" stroke="#0a0aff" stroke-width="1.4" stroke-linejoin="miter"/>
<polygon points="396.4,60.1 402.4,70.9 390.4,70.9" fill="none" stroke="#0a0aff" stroke-width="1.4" stroke-linejoin="miter"/>
<polygon points="419.0,63.1 425.0,73.9 413.0,73.9" fill="none" stroke="#0a0aff" stroke-width="1.4" stroke-linejoin="miter"/>
<polygon points="440.7,72.8 446.7,83.6 434.7,83.6" fill="none" stroke="#0a0aff" stroke-width="1.4" stroke-linejoin="miter"/>
<polygon points="462.6,73.6 468.6,84.4 456.6,84.4" fill="none" stroke="#0a0aff" stroke-width="1.4" stroke-linejoin="miter"/>
<polygon points="484.5,78.0 490.5,88.8 478.5,88.8" fill="none" stroke="#0a0aff" stroke-width="1.4" stroke-linejoin="miter"/>
<polygon points="506.4,69.2 512.4,80.0 500.4,80.0" fill="none" stroke="#0a0aff" stroke-width="1.4" stroke-linejoin="miter"/>
<polygon points="527.8,90.1 533.8,100.9 521.8,100.9" fill="none" stroke="#0a0aff" stroke-width="1.4" stroke-linejoin="miter"/>
<polygon points="550.0,145.6 556.0,156.4 544.0,156.4" fill="none" stroke="#0a0aff" stroke-width="1.4" stroke-linejoin="miter"/>
<polygon points="572.2,169.2 578.2,180.0 566.2,180.0" fill="none" stroke="#0a0aff" stroke-width="1.4" stroke-linejoin="miter"/>
<polygon points="594.7,153.9 600.7,164.7 588.7,164.7" fill="none" stroke="#0a0aff" stroke-width="1.4" stroke-linejoin="miter"/>
<polygon points="617.5,164.0 623.5,174.8 611.5,174.8" fill="none" stroke="#0a0aff" stroke-width="1.4" stroke-linejoin="miter"/>
<polygon points="638.8,122.0 644.8,132.8 632.8,132.8" fill="none" stroke="#0a0aff" stroke-width="1.4" stroke-linejoin="miter"/>
<polygon points="660.4,117.4 666.4,128.2 654.4,128.2" fill="none" stroke="#0a0aff" stroke-width="1.4" stroke-linejoin="miter"/>
<polygon points="669.3,116.5 675.3,127.3 663.3,127.3" fill="none" stroke="#0a0aff" stroke-width="1.4" stroke-linejoin="miter"/>
</g>
<text x="205" y="38.4" font-size="20.3" text-anchor="start" font-weight="bold" fill="#0a0aff" >35.75°C</text>
<line x1="272" y1="32.3" x2="324" y2="32.3" stroke="#0a0aff" stroke-width="2" />
<line x1="318" y1="29.2" x2="330" y2="35.2" stroke="#0a0aff" stroke-width="1.8" />
<line x1="318" y1="35.2" x2="330" y2="29.2" stroke="#0a0aff" stroke-width="1.8" />
<text x="202.6" y="126.1" font-size="20.3" text-anchor="start" font-weight="bold" fill="#ff0a0a" >31.95°C</text>
<line x1="270" y1="119.5" x2="332" y2="119.5" stroke="#ff0a0a" stroke-width="2" />
<line x1="326.4" y1="116.9" x2="338.4" y2="122.9" stroke="#ff0a0a" stroke-width="1.8" />
<line x1="326.4" y1="122.9" x2="338.4" y2="116.9" stroke="#ff0a0a" stroke-width="1.8" />
<text x="371.2" y="248.1" font-size="20.3" text-anchor="start" font-weight="bold" fill="#00ff00" >24.98°C</text>
<line x1="375.2" y1="250.7" x2="321.5" y2="276.5" stroke="#00ff00" stroke-width="2" />
<line x1="315.5" y1="274.5" x2="327.5" y2="280.5" stroke="#00ff00" stroke-width="1.8" />
<line x1="315.5" y1="280.5" x2="327.5" y2="274.5" stroke="#00ff00" stroke-width="1.8" />
<text x="195.7" y="468.9" font-size="20.3" text-anchor="start" font-weight="bold" fill="#000" >17.12°C</text>
<line x1="263.4" y1="462" x2="335" y2="462" stroke="#000" stroke-width="2" />
<line x1="329.6" y1="459" x2="341.6" y2="465" stroke="#000" stroke-width="1.8" />
<line x1="329.6" y1="465" x2="341.6" y2="459" stroke="#000" stroke-width="1.8" />
<ellipse cx="484.5" cy="165.6" rx="95.2" ry="32.9" transform="rotate(-34.2 484.5 165.6)" fill="none" stroke="#8000ff" stroke-width="2.8" stroke-dasharray="6 5"/>
<line x1="464.1" y1="217.3" x2="483.5" y2="254.5" stroke="#8000ff" stroke-width="2.3" />
<polygon points="487.8,261.8 477.5,252.6 485.9,248.1" fill="#8000ff"/>
<text x="425" y="271.6" font-size="14.1" text-anchor="start" font-weight="bold" fill="#111" >Water bypassed this area</text>
<rect x="76.6" y="119.7" width="64.1" height="68.8" fill="none" stroke="#000" stroke-width="1.5"/>
<text x="73.7" y="114.2" font-size="14.6" text-anchor="start" font-weight="bold" fill="#111" >Point crack</text>
<circle cx="108.6" cy="138.1" r="0" fill="none" stroke="#4472c4" stroke-width="0"/>
<circle cx="108.6" cy="138.1" r="7.3" fill="#4472c4"/>
<line x1="108.6" y1="108.9" x2="108.6" y2="201.7" stroke="#ed7d31" stroke-width="2.2" stroke-dasharray="6 3.5"/>
<line x1="108.6" y1="174.1" x2="150" y2="204.5" stroke="#ed7d31" stroke-width="1.8" />
<polygon points="153.3,206.9 145.9,205.2 149.4,200.3" fill="#ed7d31"/>
<text x="121" y="224.8" font-size="14.4" text-anchor="start" font-weight="bold" fill="#111" >Evaluation route</text>
<line x1="566.8" y1="10.4" x2="624.6" y2="10.4" stroke="#000" stroke-width="2" />
<rect x="590.9" y="5.4" width="10" height="10" fill="none" stroke="#222" stroke-width="1.3"/>
<text x="630.5" y="19.1" font-size="25" text-anchor="start" font-weight="normal" fill="#000" >5°C</text>
<line x1="566.8" y1="41.2" x2="624.6" y2="41.2" stroke="#00ff00" stroke-width="2" />
<polygon points="595.9,35.1 597.8,39.0 602.2,39.7 599.0,42.7 599.8,47.0 595.9,45.0 592.0,47.0 592.8,42.7 589.6,39.7 594.0,39.0" fill="none" stroke="#00ff00" stroke-width="1.4" stroke-linejoin="miter"/>
<text x="630.5" y="49.9" font-size="25" text-anchor="start" font-weight="normal" fill="#000" >25°C</text>
<line x1="566.8" y1="72.4" x2="624.6" y2="72.4" stroke="#ff0a0a" stroke-width="2" />
<circle cx="595.9" cy="72.4" r="5.8" fill="none" stroke="#ff0a0a" stroke-width="1.4"/>
<text x="630.5" y="81.1" font-size="25" text-anchor="start" font-weight="normal" fill="#000" >45°C</text>
<line x1="566.8" y1="103.6" x2="624.6" y2="103.6" stroke="#0a0aff" stroke-width="2" />
<polygon points="595.9,95.8 602.4,107.5 589.4,107.5" fill="none" stroke="#0a0aff" stroke-width="1.5" stroke-linejoin="miter"/>
<text x="630.5" y="112.3" font-size="25" text-anchor="start" font-weight="normal" fill="#000" >55°C</text>
<line x1="70.0" y1="651.3" x2="70.0" y2="1133.0" stroke="#000" stroke-width="1.9" />
<line x1="69.0" y1="1132.0" x2="666.8" y2="1132.0" stroke="#000" stroke-width="1.9" />
<line x1="61.3" y1="652.3" x2="70.0" y2="652.3" stroke="#000" stroke-width="1.8" />
<text x="54" y="659.3" font-size="20" text-anchor="end" font-weight="normal" fill="#000" >37</text>
<line x1="65.8" y1="670.09" x2="70.0" y2="670.09" stroke="#000" stroke-width="1.8" />
<line x1="61.3" y1="687.88" x2="70.0" y2="687.88" stroke="#000" stroke-width="1.8" />
<text x="54" y="694.88" font-size="20" text-anchor="end" font-weight="normal" fill="#000" >36</text>
<line x1="65.8" y1="705.67" x2="70.0" y2="705.67" stroke="#000" stroke-width="1.8" />
<line x1="61.3" y1="723.46" x2="70.0" y2="723.46" stroke="#000" stroke-width="1.8" />
<text x="54" y="730.46" font-size="20" text-anchor="end" font-weight="normal" fill="#000" >35</text>
<line x1="65.8" y1="741.25" x2="70.0" y2="741.25" stroke="#000" stroke-width="1.8" />
<line x1="61.3" y1="759.04" x2="70.0" y2="759.04" stroke="#000" stroke-width="1.8" />
<text x="54" y="766.04" font-size="20" text-anchor="end" font-weight="normal" fill="#000" >34</text>
<line x1="65.8" y1="776.83" x2="70.0" y2="776.83" stroke="#000" stroke-width="1.8" />
<line x1="61.3" y1="794.62" x2="70.0" y2="794.62" stroke="#000" stroke-width="1.8" />
<text x="54" y="801.62" font-size="20" text-anchor="end" font-weight="normal" fill="#000" >33</text>
<line x1="65.8" y1="812.41" x2="70.0" y2="812.41" stroke="#000" stroke-width="1.8" />
<line x1="61.3" y1="830.2" x2="70.0" y2="830.2" stroke="#000" stroke-width="1.8" />
<text x="54" y="837.2" font-size="20" text-anchor="end" font-weight="normal" fill="#000" >32</text>
<line x1="65.8" y1="847.99" x2="70.0" y2="847.99" stroke="#000" stroke-width="1.8" />
<line x1="61.3" y1="865.78" x2="70.0" y2="865.78" stroke="#000" stroke-width="1.8" />
<text x="54" y="872.78" font-size="20" text-anchor="end" font-weight="normal" fill="#000" >31</text>
<line x1="65.8" y1="883.57" x2="70.0" y2="883.57" stroke="#000" stroke-width="1.8" />
<line x1="61.3" y1="901.36" x2="70.0" y2="901.36" stroke="#000" stroke-width="1.8" />
<text x="54" y="908.36" font-size="20" text-anchor="end" font-weight="normal" fill="#000" >30</text>
<line x1="65.8" y1="919.15" x2="70.0" y2="919.15" stroke="#000" stroke-width="1.8" />
<line x1="61.3" y1="936.94" x2="70.0" y2="936.94" stroke="#000" stroke-width="1.8" />
<text x="54" y="943.94" font-size="20" text-anchor="end" font-weight="normal" fill="#000" >29</text>
<line x1="65.8" y1="954.73" x2="70.0" y2="954.73" stroke="#000" stroke-width="1.8" />
<line x1="61.3" y1="972.52" x2="70.0" y2="972.52" stroke="#000" stroke-width="1.8" />
<text x="54" y="979.52" font-size="20" text-anchor="end" font-weight="normal" fill="#000" >28</text>
<line x1="65.8" y1="990.31" x2="70.0" y2="990.31" stroke="#000" stroke-width="1.8" />
<line x1="61.3" y1="1008.1" x2="70.0" y2="1008.1" stroke="#000" stroke-width="1.8" />
<text x="54" y="1015.1" font-size="20" text-anchor="end" font-weight="normal" fill="#000" >27</text>
<line x1="65.8" y1="1025.89" x2="70.0" y2="1025.89" stroke="#000" stroke-width="1.8" />
<line x1="61.3" y1="1043.68" x2="70.0" y2="1043.68" stroke="#000" stroke-width="1.8" />
<text x="54" y="1050.68" font-size="20" text-anchor="end" font-weight="normal" fill="#000" >26</text>
<line x1="65.8" y1="1061.47" x2="70.0" y2="1061.47" stroke="#000" stroke-width="1.8" />
<line x1="61.3" y1="1079.26" x2="70.0" y2="1079.26" stroke="#000" stroke-width="1.8" />
<text x="54" y="1086.26" font-size="20" text-anchor="end" font-weight="normal" fill="#000" >25</text>
<line x1="65.8" y1="1097.05" x2="70.0" y2="1097.05" stroke="#000" stroke-width="1.8" />
<line x1="61.3" y1="1114.84" x2="70.0" y2="1114.84" stroke="#000" stroke-width="1.8" />
<text x="54" y="1121.84" font-size="20" text-anchor="end" font-weight="normal" fill="#000" >24</text>
<line x1="665.9" y1="1132.0" x2="665.9" y2="1140.5" stroke="#000" stroke-width="1.8" />
<text x="665.9" y="1162.5" font-size="20.5" text-anchor="middle" font-weight="normal" fill="#000" >100</text>
<line x1="616.25" y1="1132.0" x2="616.25" y2="1136.5" stroke="#000" stroke-width="1.8" />
<line x1="566.6" y1="1132.0" x2="566.6" y2="1140.5" stroke="#000" stroke-width="1.8" />
<text x="566.6" y="1162.5" font-size="20.5" text-anchor="middle" font-weight="normal" fill="#000" >150</text>
<line x1="516.95" y1="1132.0" x2="516.95" y2="1136.5" stroke="#000" stroke-width="1.8" />
<line x1="467.3" y1="1132.0" x2="467.3" y2="1140.5" stroke="#000" stroke-width="1.8" />
<text x="467.3" y="1162.5" font-size="20.5" text-anchor="middle" font-weight="normal" fill="#000" >200</text>
<line x1="417.65" y1="1132.0" x2="417.65" y2="1136.5" stroke="#000" stroke-width="1.8" />
<line x1="368.0" y1="1132.0" x2="368.0" y2="1140.5" stroke="#000" stroke-width="1.8" />
<text x="368.0" y="1162.5" font-size="20.5" text-anchor="middle" font-weight="normal" fill="#000" >250</text>
<line x1="318.35" y1="1132.0" x2="318.35" y2="1136.5" stroke="#000" stroke-width="1.8" />
<line x1="268.7" y1="1132.0" x2="268.7" y2="1140.5" stroke="#000" stroke-width="1.8" />
<text x="268.7" y="1162.5" font-size="20.5" text-anchor="middle" font-weight="normal" fill="#000" >300</text>
<line x1="219.05" y1="1132.0" x2="219.05" y2="1136.5" stroke="#000" stroke-width="1.8" />
<line x1="169.4" y1="1132.0" x2="169.4" y2="1140.5" stroke="#000" stroke-width="1.8" />
<text x="169.4" y="1162.5" font-size="20.5" text-anchor="middle" font-weight="normal" fill="#000" >350</text>
<line x1="119.75" y1="1132.0" x2="119.75" y2="1136.5" stroke="#000" stroke-width="1.8" />
<line x1="70.1" y1="1132.0" x2="70.1" y2="1140.5" stroke="#000" stroke-width="1.8" />
<text x="70.1" y="1162.5" font-size="20.5" text-anchor="middle" font-weight="normal" fill="#000" >400</text>
<text x="369.7" y="1194" font-size="24" text-anchor="middle" font-weight="bold" fill="#000" >Y /mm</text>
<text x="217.5" y="1233.2" font-size="30.9">b Temperature 45<tspan dx="3">°</tspan><tspan dx="-2.5">C</tspan></text>
<text transform="translate(22,882.7) rotate(-90)" font-size="25" text-anchor="middle">Temperature/<tspan font-weight="bold">°C</tspan></text>
<g clip-path="url(#cb)">
<polyline points="70.5,1113.7 72.5,1114.1 74.5,1116.3 76.5,1114.6 78.4,1111.1 80.1,1109.1 81.9,1108.9 83.6,1107.1 85.6,1109.4 87.6,1112.4 89.3,1112.3 91.1,1110.0 92.8,1109.8 94.6,1111.5 96.3,1111.0 98.1,1112.4 100.0,1111.9 102.0,1109.8 104.0,1111.9 106.0,1115.0 107.7,1114.1 109.5,1110.7 111.2,1109.8 113.0,1109.1 114.7,1106.5 116.5,1105.8 118.2,1103.1 120.0,1098.4 121.7,1095.3 123.5,1097.3 125.2,1097.1 127.0,1099.3 128.8,1097.6 130.5,1094.0 132.3,1092.7 134.5,1095.7 136.6,1096.2 138.8,1099.3 140.6,1098.9 142.3,1097.1 144.1,1096.6 145.8,1099.2 147.6,1099.3 149.3,1101.9 153.3,1088.7 157.2,1109.8 161.2,1091.4 165.1,1109.8 169.0,1088.7 171.0,1088.0 173.0,1086.1 174.7,1086.6 176.5,1088.3 178.2,1088.7 180.0,1086.2 181.7,1085.7 183.5,1083.5 185.2,1084.7 187.0,1088.6 188.7,1090.1 190.5,1087.5 192.2,1086.5 194.0,1083.5 195.8,1083.4 197.5,1085.3 199.3,1084.8 201.5,1083.9 203.6,1085.5 205.8,1084.8 208.0,1082.7 210.2,1083.0 212.4,1080.9 214.1,1080.5 215.9,1082.8 217.6,1082.2 219.4,1080.5 221.1,1080.1 222.9,1078.2 224.7,1077.0 226.4,1077.8 228.2,1076.9 231.0,1078.0 233.2,1074.0 235.3,1071.4 237.0,1070.9 238.8,1068.7 240.5,1068.7 242.5,1065.5 244.5,1060.9 246.4,1061.8 248.4,1063.5 250.0,1067.7 252.0,1071.7 255.1,1059.5 256.6,1058.2 258.2,1055.4 259.7,1051.3 261.2,1048.2 263.2,1049.2 265.3,1049.3 266.9,1045.6 268.4,1043.1 269.9,1045.0 271.5,1046.2 273.0,1044.2 274.5,1043.1 276.1,1043.5 277.6,1042.1 279.1,1042.4 280.7,1044.2 282.7,1036.0 285.3,1042.1 286.8,1032.9 289.3,1030.9 291.9,1028.8 293.9,1038.0 296.0,1030.9 298.0,1035.5 300.1,1023.7 302.1,1016.6 303.6,1019.0 305.2,1020.7 306.7,1016.3 308.2,1013.5 310.3,1004.3 312.3,999.2 314.4,995.1 318.0,979.4 322.0,968.9 324.6,962.3 327.2,965.0 329.8,950.5 332.5,958.4 336.4,976.3 338.4,978.5 340.4,979.9 343.0,982.6 345.6,988.3 347.6,989.6 349.5,991.9 352.2,990.5 354.1,996.0 356.1,999.7 358.1,1003.2 360.1,1008.1 362.1,1009.1 364.0,1009.0 366.6,1012.0 368.6,1008.4 370.6,1006.0 372.6,1009.3 374.5,1011.5 377.1,1009.3 379.8,1010.4 382.4,1008.1 385.0,1009.6 387.0,1005.0 389.0,1001.2 390.9,1006.0 392.9,1008.8 394.4,1008.4 396.0,1008.8 398.3,1007.9 400.0,1011.0 401.6,1013.0 403.8,1013.8 406.0,1011.8 407.6,1009.8 409.2,1009.5 410.9,1006.9 412.5,1003.2 414.7,1011.0 416.9,1016.0 419.1,1018.4 421.3,1016.7 423.5,1020.8 425.7,1020.5 427.3,1018.6 428.9,1018.6 430.5,1017.7 432.2,1015.7 433.9,1017.1 435.5,1020.4 437.1,1019.3 438.8,1016.4 440.5,1013.2 442.1,1011.5 443.8,1015.1 445.4,1016.8 447.0,1018.9 448.6,1022.3 450.8,1017.4 453.0,1015.8 454.6,1014.6 456.3,1011.5 458.5,1021.9 460.1,1017.5 461.8,1014.8 463.5,1019.6 465.1,1023.0 466.8,1023.5 468.4,1025.2 470.5,1022.0 472.7,1029.4 474.4,1028.2 476.0,1025.4 478.2,1036.7 480.4,1037.8 482.6,1034.2 484.2,1036.6 485.9,1040.1 488.1,1044.1 490.2,1038.8 492.4,1036.6 494.6,1042.1 495.5,1039.6 499.2,1103.9 501.4,1103.7 503.6,1102.7 506.5,1097.7 509.4,1103.3 512.3,1098.7 513.8,1100.4 515.3,1103.8 517.5,1098.6 519.6,1098.8 521.1,1097.7 522.6,1095.6 524.7,1094.8 526.9,1100.9 529.1,1093.8 531.3,1101.6 534.2,1093.4 535.7,1094.1 537.2,1096.1 540.1,1093.7 543.0,1099.0 545.9,1107.8 548.1,1095.3 550.3,1093.9 552.5,1105.5 554.7,1088.1 556.9,1095.2 559.1,1094.5 562.0,1095.8 564.9,1092.7 566.1,1102.5 570.5,1089.5 573.1,1111.1 576.6,1092.8 581.0,1105.2 583.7,1094.2 585.9,1096.4 588.0,1104.3 591.5,1089.2 595.0,1099.4 597.7,1099.3 601.2,1108.4 603.8,1095.7 605.5,1099.0 607.3,1100.7 609.5,1102.5 611.7,1108.5 613.5,1106.1 615.2,1104.5 617.8,1112.4 620.0,1110.9 622.2,1115.8 624.0,1113.0 625.7,1109.6 627.5,1106.7 629.2,1104.6 631.8,1104.9 634.5,1102.4 637.1,1108.4 638.9,1110.7 640.6,1111.5 642.4,1106.9 644.1,1103.4 645.9,1104.2 647.6,1104.2 649.4,1104.1 651.1,1105.2 653.7,1102.6 655.5,1105.3 658.1,1104.1 659.9,1101.2 661.6,1096.3 664.2,1106.1" fill="none" stroke="#000" stroke-width="2.2" stroke-linejoin="round" stroke-linecap="round" />
<polyline points="70.5,1105.8 73.2,1100.6 75.8,1097.3 77.8,1098.7 79.7,1101.1 81.7,1097.3 83.6,1092.8 86.2,1091.7 88.9,1095.2 91.6,1097.3 94.2,1102.9 96.8,1097.9 99.4,1097.6 102.1,1095.8 104.7,1099.3 107.3,1093.8 109.9,1091.9 112.6,1086.2 115.2,1084.1 117.8,1084.3 120.4,1087.3 122.4,1089.2 124.4,1092.7 127.0,1094.7 129.6,1091.2 132.2,1090.1 134.9,1085.5 136.6,1087.8 138.2,1089.4 139.8,1089.0 141.5,1089.9 143.2,1089.3 145.0,1087.6 147.2,1085.2 149.3,1085.3 151.9,1082.9 154.6,1082.8 157.2,1078.0 159.8,1076.3 162.4,1078.7 165.1,1084.9 167.8,1080.8 170.4,1080.8 172.0,1079.9 173.7,1079.6 175.3,1082.1 176.9,1083.3 178.6,1080.2 180.2,1077.8 181.8,1077.9 183.5,1076.9 186.1,1076.5 188.7,1080.2 191.3,1076.7 194.0,1076.4 196.7,1076.6 199.3,1081.0 200.9,1077.1 202.6,1074.0 204.2,1072.9 205.8,1071.0 208.4,1066.1 211.1,1065.1 213.1,1066.7 215.0,1069.4 217.7,1070.3 220.3,1067.1 222.2,1064.0 224.2,1059.1 226.8,1060.0 229.5,1064.4 232.4,1060.8 235.3,1060.4 237.2,1061.2 239.2,1062.8 241.1,1058.6 243.1,1053.6 245.1,1050.3 247.1,1048.5 250.0,1062.0 253.1,1043.0 256.1,1052.8 257.6,1050.4 259.2,1046.2 260.8,1042.7 262.3,1040.6 264.3,1045.8 267.4,1034.0 268.9,1036.1 270.4,1037.0 271.9,1034.0 273.5,1032.9 275.1,1035.4 276.6,1037.3 278.1,1034.6 279.6,1033.8 281.7,1019.5 283.7,1029.5 286.8,1018.2 288.4,1019.4 289.9,1019.6 291.9,1011.4 295.0,1022.0 298.0,1014.3 300.1,1007.4 302.1,1000.2 303.6,1002.3 305.2,1005.3 308.2,996.1 309.8,995.0 311.3,993.1 312.9,990.0 314.4,988.0 316.7,975.0 319.3,945.3 322.0,936.0 325.0,925.0 327.6,872.5 330.3,838.4 332.9,831.8 334.9,834.7 336.8,835.8 339.5,854.2 342.1,860.4 344.1,863.5 346.0,867.4 348.0,865.8 350.0,862.8 351.9,857.3 353.9,853.4 355.9,852.8 357.8,851.1 359.8,855.0 361.8,860.3 364.4,852.5 366.4,852.7 368.4,852.2 371.0,863.3 373.6,851.9 377.5,872.1 379.5,868.6 381.5,865.8 383.4,869.4 385.4,872.1 387.4,868.3 389.4,866.0 391.4,869.7 393.3,872.3 395.9,865.9 397.9,869.2 399.9,873.4 401.9,871.4 403.8,868.0 405.8,872.1 407.8,877.5 409.8,878.9 411.7,879.3 413.6,878.0 415.6,878.5 417.6,880.7 419.6,881.4 421.6,881.9 423.5,883.2 425.5,886.0 427.5,887.4 429.4,882.6 431.4,879.2 434.0,886.3 437.6,873.2 440.4,881.5 442.3,892.3 445.2,876.2 448.0,887.6 449.9,885.1 451.8,880.8 454.7,881.7 456.6,887.3 460.4,904.5 463.2,915.9 465.1,919.7 467.0,929.2 469.9,938.7 471.8,940.2 473.7,943.4 476.0,946.3 478.4,948.2 480.8,950.1 483.1,953.9 486.0,972.8 488.8,952.6 491.7,965.1 494.5,952.9 497.4,968.3 500.2,952.4 503.1,971.0 505.9,953.9 509.7,968.1 511.6,970.4 513.5,971.8 515.4,968.4 517.3,966.1 519.2,963.8 521.1,960.0 523.0,963.3 524.9,967.4 526.8,970.2 528.7,971.6 531.5,972.2 534.4,983.3 537.2,980.5 540.1,987.0 542.9,979.3 544.8,975.4 546.7,972.2 548.6,971.4 550.5,969.1 553.4,957.7 555.9,938.7 558.9,913.1 560.8,911.6 562.8,911.7 565.8,897.1 567.8,900.7 569.7,902.8 571.2,899.1 572.7,897.2 574.6,894.0 576.6,902.4 578.6,896.9 580.5,900.6 582.0,901.4 583.5,901.1 585.0,900.4 586.5,901.3 589.4,908.5 590.9,909.5 592.4,909.0 595.3,909.9 598.3,917.4 601.2,930.0 603.2,933.7 605.2,938.8 608.1,931.4 611.1,923.8 613.0,923.7 615.0,922.3 617.0,917.4 619.0,914.3 621.0,914.0 622.9,911.8 624.4,908.6 625.9,906.8 628.8,901.8 631.8,910.1 634.7,904.3 636.2,906.3 637.7,906.9 639.2,905.2 640.7,904.3 643.6,908.4 645.6,908.0 647.6,906.0 650.5,910.3 652.5,917.8 654.5,908.4 657.4,914.1 659.4,900.4 661.4,925.3 663.3,904.3 664.3,899.3" fill="none" stroke="#ff0a0a" stroke-width="2.2" stroke-linejoin="round" stroke-linecap="round" />
<polyline points="70.5,1075.6 72.5,1071.3 74.5,1068.0 77.1,1070.8 79.7,1069.2 82.3,1069.1 85.0,1065.3 86.6,1068.1 88.2,1069.0 89.9,1068.0 91.5,1067.7 94.2,1069.0 96.8,1066.6 99.4,1066.8 102.0,1062.9 103.4,1058.9 106.0,1070.7 108.0,1070.5 109.9,1068.6 112.6,1065.7 115.2,1067.5 117.1,1067.5 119.0,1068.2 121.0,1069.1 123.1,1066.8 126.0,1066.5 127.8,1065.1 129.6,1062.8 132.2,1063.0 134.9,1058.9 138.8,1069.0 141.4,1061.1 144.1,1058.2 146.7,1055.4 149.3,1056.5 151.9,1056.0 154.6,1058.6 157.2,1056.5 159.8,1057.9 162.5,1063.8 165.1,1065.0 167.7,1061.9 169.7,1057.0 171.7,1054.1 173.6,1054.4 175.6,1053.9 178.2,1053.3 180.9,1050.1 182.9,1048.8 184.8,1049.0 187.4,1050.5 190.1,1055.4 192.7,1060.5 195.3,1056.5 197.9,1050.1 200.6,1051.2 203.2,1048.1 205.1,1047.2 207.1,1045.1 209.1,1041.0 211.1,1038.2 213.1,1038.2 215.0,1036.8 217.0,1040.4 219.0,1044.8 220.9,1041.8 222.9,1037.0 226.8,1026.5 230.8,1036.9 232.4,1033.1 233.9,1029.9 236.6,1033.3 239.2,1033.5 241.1,1029.7 243.1,1025.0 245.1,1022.5 247.1,1020.6 250.0,1014.3 252.6,1027.8 255.1,1018.8 257.2,1021.9 260.2,1011.0 262.5,1005.1 265.3,1001.0 267.5,1006.8 269.4,1014.1 271.4,1007.1 273.5,1003.8 275.6,998.7 277.6,997.0 279.1,998.2 280.7,998.4 282.7,1004.6 284.8,996.5 286.8,992.6 288.4,990.3 289.9,989.1 291.7,990.9 294.4,978.9 297.0,974.8 298.8,966.3 299.6,950.5 300.9,940.0 306.0,900.0 310.0,870.0 314.0,850.0 315.8,835.5 318.4,817.1 322.4,788.2 326.3,756.7 329.0,730.4 330.8,716.0 332.9,706.8 334.2,709.4 335.5,702.8 336.5,708.0 338.2,699.0 339.7,701.5 342.3,695.0 343.4,693.5 345.0,699.0 346.9,700.5 348.9,700.2 350.5,707.0 352.8,718.3 355.5,715.6 358.1,716.8 360.1,718.4 362.0,721.0 364.0,720.6 365.6,718.8 367.3,716.2 371.2,729.7 373.2,725.1 375.2,721.5 377.1,718.5 379.1,713.4 381.1,713.3 383.1,713.8 385.7,714.0 388.3,711.2 391.0,716.3 392.9,717.6 394.9,717.4 397.5,716.2 400.1,710.8 401.8,711.9 403.4,714.1 405.0,713.7 406.7,711.8 408.6,714.7 410.6,718.7 412.6,718.3 414.6,716.3 417.2,702.9 419.2,704.7 421.2,707.9 423.1,711.4 425.1,713.5 427.0,713.8 428.8,716.0 430.6,717.0 432.3,716.7 434.0,704.8 435.8,718.7 437.5,719.6 439.2,721.4 441.0,723.9 442.8,726.7 444.5,728.8 446.7,735.1 448.9,738.4 451.5,734.3 453.2,730.4 455.0,728.4 456.8,728.3 458.5,726.9 460.7,726.2 462.9,729.3 465.1,726.3 467.3,727.6 469.1,726.1 470.8,725.5 473.4,725.5 476.1,728.0 477.9,730.8 479.6,731.7 480.4,736.0 483.1,732.8 484.9,732.6 486.6,733.8 488.4,737.6 490.1,739.8 491.9,738.3 493.6,738.7 495.4,740.7 497.1,741.7 499.7,739.5 501.5,751.2 504.1,746.6 505.9,749.6 507.6,753.7 509.4,753.1 511.1,750.7 512.9,754.5 514.6,759.2 516.4,756.1 518.1,751.4 519.9,753.9 521.6,757.2 525.1,746.7 528.6,757.3 530.4,757.6 532.2,756.4 534.4,754.9 537.7,744.6 539.9,748.8 542.0,730.1 544.2,749.7 545.9,749.2 547.5,750.3 549.7,757.8 551.9,751.9 553.5,753.1 555.2,752.4 556.9,750.1 558.5,749.5 560.7,761.3 562.8,750.5 565.0,753.4 568.3,768.4 570.5,757.7 572.7,746.4 574.9,759.8 577.1,746.1 578.8,750.9 580.4,754.3 582.0,750.7 583.6,747.9 585.2,749.0 586.9,749.3 589.1,751.6 590.8,751.5 592.4,752.7 594.0,757.3 595.7,760.5 597.4,760.3 599.0,760.8 600.6,762.2 602.3,761.8 604.5,764.4 606.6,763.7 608.2,762.2 609.9,762.1 611.5,763.7 613.2,763.7 614.9,766.1 616.5,769.3 618.1,767.7 619.8,765.1 621.5,765.1 623.1,765.6 624.7,766.8 626.3,766.9 628.5,766.6 630.1,767.7 631.8,769.9 633.5,769.9 635.1,768.7 636.8,770.7 638.4,773.8 640.0,774.8 641.7,774.1 643.9,770.2 646.1,771.0 647.7,772.5 649.3,775.9 651.0,775.3 652.6,773.9 654.2,775.1 655.9,777.6 657.5,776.7 659.2,775.0 661.4,779.0 663.6,778.0 665.8,781.0" fill="none" stroke="#0a0aff" stroke-width="2.2" stroke-linejoin="round" stroke-linecap="round" />
<rect x="67.3" y="1110.5" width="9" height="9" fill="none" stroke="#222" stroke-width="1.3"/>
<rect x="98.9" y="1111.8" width="9" height="9" fill="none" stroke="#222" stroke-width="1.3"/>
<rect x="130.4" y="1086.9" width="9" height="9" fill="none" stroke="#222" stroke-width="1.3"/>
<rect x="164.5" y="1100.0" width="9" height="9" fill="none" stroke="#222" stroke-width="1.3"/>
<rect x="196.1" y="1081.6" width="9" height="9" fill="none" stroke="#222" stroke-width="1.3"/>
<rect x="228.9" y="1076.3" width="9" height="9" fill="none" stroke="#222" stroke-width="1.3"/>
<rect x="260.8" y="1047.8" width="9" height="9" fill="none" stroke="#222" stroke-width="1.3"/>
<rect x="293.5" y="1031.0" width="9" height="9" fill="none" stroke="#222" stroke-width="1.3"/>
<rect x="325.3" y="946.0" width="9" height="9" fill="none" stroke="#222" stroke-width="1.3"/>
<rect x="358.2" y="1003.8" width="9" height="9" fill="none" stroke="#222" stroke-width="1.3"/>
<rect x="391.5" y="1008.5" width="9" height="9" fill="none" stroke="#222" stroke-width="1.3"/>
<rect x="423.3" y="1020.1" width="9" height="9" fill="none" stroke="#222" stroke-width="1.3"/>
<rect x="456.2" y="1009.1" width="9" height="9" fill="none" stroke="#222" stroke-width="1.3"/>
<rect x="488.6" y="1035.4" width="9" height="9" fill="none" stroke="#222" stroke-width="1.3"/>
<rect x="520.8" y="1088.0" width="9" height="9" fill="none" stroke="#222" stroke-width="1.3"/>
<rect x="554.5" y="1089.9" width="9" height="9" fill="none" stroke="#222" stroke-width="1.3"/>
<rect x="586.2" y="1084.9" width="9" height="9" fill="none" stroke="#222" stroke-width="1.3"/>
<rect x="617.7" y="1111.2" width="9" height="9" fill="none" stroke="#222" stroke-width="1.3"/>
<rect x="651.0" y="1105.1" width="9" height="9" fill="none" stroke="#222" stroke-width="1.3"/>
<circle cx="71.8" cy="1099.3" r="4.6" fill="none" stroke="#ff0a0a" stroke-width="1.4"/>
<circle cx="94.2" cy="1097.9" r="4.6" fill="none" stroke="#ff0a0a" stroke-width="1.4"/>
<circle cx="116.5" cy="1086.1" r="4.6" fill="none" stroke="#ff0a0a" stroke-width="1.4"/>
<circle cx="141.5" cy="1090.1" r="4.6" fill="none" stroke="#ff0a0a" stroke-width="1.4"/>
<circle cx="167.7" cy="1079.5" r="4.6" fill="none" stroke="#ff0a0a" stroke-width="1.4"/>
<circle cx="191.4" cy="1076.9" r="4.6" fill="none" stroke="#ff0a0a" stroke-width="1.4"/>
<circle cx="213.7" cy="1070.4" r="4.6" fill="none" stroke="#ff0a0a" stroke-width="1.4"/>
<circle cx="236.0" cy="1063.5" r="4.6" fill="none" stroke="#ff0a0a" stroke-width="1.4"/>
<circle cx="260.2" cy="1054.4" r="4.6" fill="none" stroke="#ff0a0a" stroke-width="1.4"/>
<circle cx="285.0" cy="1026.0" r="4.6" fill="none" stroke="#ff0a0a" stroke-width="1.4"/>
<circle cx="308.8" cy="991.0" r="4.6" fill="none" stroke="#ff0a0a" stroke-width="1.4"/>
<circle cx="331.6" cy="831.8" r="4.6" fill="none" stroke="#ff0a0a" stroke-width="1.4"/>
<circle cx="356.0" cy="851.5" r="4.6" fill="none" stroke="#ff0a0a" stroke-width="1.4"/>
<circle cx="380.2" cy="869.9" r="4.6" fill="none" stroke="#ff0a0a" stroke-width="1.4"/>
<circle cx="403.3" cy="879.1" r="4.6" fill="none" stroke="#ff0a0a" stroke-width="1.4"/>
<circle cx="427.5" cy="891.5" r="4.6" fill="none" stroke="#ff0a0a" stroke-width="1.4"/>
<circle cx="452.5" cy="882.6" r="4.6" fill="none" stroke="#ff0a0a" stroke-width="1.4"/>
<circle cx="475.0" cy="945.0" r="4.6" fill="none" stroke="#ff0a0a" stroke-width="1.4"/>
<circle cx="498.8" cy="960.0" r="4.6" fill="none" stroke="#ff0a0a" stroke-width="1.4"/>
<circle cx="522.6" cy="964.3" r="4.6" fill="none" stroke="#ff0a0a" stroke-width="1.4"/>
<circle cx="547.3" cy="977.0" r="4.6" fill="none" stroke="#ff0a0a" stroke-width="1.4"/>
<circle cx="570.7" cy="902.2" r="4.6" fill="none" stroke="#ff0a0a" stroke-width="1.4"/>
<circle cx="594.3" cy="916.0" r="4.6" fill="none" stroke="#ff0a0a" stroke-width="1.4"/>
<circle cx="618.6" cy="920.0" r="4.6" fill="none" stroke="#ff0a0a" stroke-width="1.4"/>
<circle cx="641.6" cy="907.2" r="4.6" fill="none" stroke="#ff0a0a" stroke-width="1.4"/>
<circle cx="663.3" cy="900.3" r="4.6" fill="none" stroke="#ff0a0a" stroke-width="1.4"/>
<polygon points="73.1,1068.4 79.1,1079.2 67.1,1079.2" fill="none" stroke="#0a0aff" stroke-width="1.5" stroke-linejoin="miter"/>
<polygon points="103.4,1050.0 109.4,1060.8 97.4,1060.8" fill="none" stroke="#0a0aff" stroke-width="1.5" stroke-linejoin="miter"/>
<polygon points="134.9,1057.9 140.9,1068.7 128.9,1068.7" fill="none" stroke="#0a0aff" stroke-width="1.5" stroke-linejoin="miter"/>
<polygon points="167.2,1056.6 173.2,1067.4 161.2,1067.4" fill="none" stroke="#0a0aff" stroke-width="1.5" stroke-linejoin="miter"/>
<polygon points="200.6,1044.8 206.6,1055.6 194.6,1055.6" fill="none" stroke="#0a0aff" stroke-width="1.5" stroke-linejoin="miter"/>
<polygon points="232.9,1022.4 238.9,1033.2 226.9,1033.2" fill="none" stroke="#0a0aff" stroke-width="1.5" stroke-linejoin="miter"/>
<polygon points="265.3,998.1 271.3,1008.9 259.3,1008.9" fill="none" stroke="#0a0aff" stroke-width="1.5" stroke-linejoin="miter"/>
<polygon points="298.8,968.3 304.8,979.1 292.8,979.1" fill="none" stroke="#0a0aff" stroke-width="1.5" stroke-linejoin="miter"/>
<polygon points="330.3,720.6 336.3,731.4 324.3,731.4" fill="none" stroke="#0a0aff" stroke-width="1.5" stroke-linejoin="miter"/>
<polygon points="362.0,718.0 368.0,728.8 356.0,728.8" fill="none" stroke="#0a0aff" stroke-width="1.5" stroke-linejoin="miter"/>
<polygon points="394.9,712.7 400.9,723.5 388.9,723.5" fill="none" stroke="#0a0aff" stroke-width="1.5" stroke-linejoin="miter"/>
<polygon points="427.2,711.1 433.2,721.9 421.2,721.9" fill="none" stroke="#0a0aff" stroke-width="1.5" stroke-linejoin="miter"/>
<polygon points="460.6,716.8 466.6,727.6 454.6,727.6" fill="none" stroke="#0a0aff" stroke-width="1.5" stroke-linejoin="miter"/>
<polygon points="492.0,730.3 498.0,741.1 486.0,741.1" fill="none" stroke="#0a0aff" stroke-width="1.5" stroke-linejoin="miter"/>
<polygon points="525.1,746.9 531.1,757.7 519.1,757.7" fill="none" stroke="#0a0aff" stroke-width="1.5" stroke-linejoin="miter"/>
<polygon points="557.4,737.7 563.4,748.5 551.4,748.5" fill="none" stroke="#0a0aff" stroke-width="1.5" stroke-linejoin="miter"/>
<polygon points="590.2,738.8 596.2,749.6 584.2,749.6" fill="none" stroke="#0a0aff" stroke-width="1.5" stroke-linejoin="miter"/>
<polygon points="622.0,762.9 628.0,773.7 616.0,773.7" fill="none" stroke="#0a0aff" stroke-width="1.5" stroke-linejoin="miter"/>
<polygon points="653.7,774.9 659.7,785.7 647.7,785.7" fill="none" stroke="#0a0aff" stroke-width="1.5" stroke-linejoin="miter"/>
<polygon points="661.4,778.2 667.4,789.0 655.4,789.0" fill="none" stroke="#0a0aff" stroke-width="1.5" stroke-linejoin="miter"/>
</g>
<text x="440.1" y="699.8" font-size="20.3" text-anchor="start" font-weight="bold" fill="#0a0aff" >35.85°C</text>
<line x1="343.4" y1="693" x2="440" y2="693" stroke="#0a0aff" stroke-width="2" />
<line x1="337.4" y1="690.6" x2="349.4" y2="696.6" stroke="#0a0aff" stroke-width="1.8" />
<line x1="337.4" y1="696.6" x2="349.4" y2="690.6" stroke="#0a0aff" stroke-width="1.8" />
<text x="436.1" y="839" font-size="20.3" text-anchor="start" font-weight="bold" fill="#ff0a0a" >31.95°C</text>
<line x1="333" y1="832.3" x2="436" y2="832.3" stroke="#ff0a0a" stroke-width="2" />
<line x1="326.9" y1="829.3" x2="338.9" y2="835.3" stroke="#ff0a0a" stroke-width="1.8" />
<line x1="326.9" y1="835.3" x2="338.9" y2="829.3" stroke="#ff0a0a" stroke-width="1.8" />
<text x="191.7" y="957.2" font-size="19.5" text-anchor="start" font-weight="bold" fill="#000" >28.56°C</text>
<line x1="257.5" y1="951.2" x2="329.5" y2="951.2" stroke="#000" stroke-width="2" />
<line x1="323.8" y1="948" x2="335.8" y2="954" stroke="#000" stroke-width="1.8" />
<line x1="323.8" y1="954" x2="335.8" y2="948" stroke="#000" stroke-width="1.8" />
<ellipse cx="472" cy="917.3" rx="24.3" ry="58.5" fill="none" stroke="#7040e8" stroke-width="2.4" stroke-dasharray="4.8 4"/>
<line x1="470.8" y1="975.7" x2="498" y2="994.5" stroke="#7040e8" stroke-width="2.3" stroke-dasharray="4.8 4"/>
<polygon points="504.5,999.4 492.9,996.8 498.1,989.4" fill="#8000ff"/>
<ellipse cx="507.5" cy="1067.4" rx="16" ry="46.7" fill="none" stroke="#7040e8" stroke-width="2.4" stroke-dasharray="4.8 4"/>
<line x1="518.2" y1="1030.9" x2="540" y2="1019" stroke="#7040e8" stroke-width="2.3" stroke-dasharray="4.8 4"/>
<polygon points="547.4,1015.5 539.8,1024.6 535.6,1016.7" fill="#8000ff"/>
<text x="500.8" y="1012.6" font-size="14.1" text-anchor="start" font-weight="bold" fill="#111" >Water bypassed this area</text>
<rect x="81" y="798.9" width="65.7" height="70.4" fill="none" stroke="#000" stroke-width="1.5"/>
<text x="78.4" y="793.6" font-size="14.6" text-anchor="start" font-weight="bold" fill="#111" >Point crack</text>
<circle cx="113.6" cy="817.8" r="7.6" fill="#4472c4"/>
<line x1="113.9" y1="788.4" x2="113.9" y2="882.5" stroke="#ed7d31" stroke-width="2.2" stroke-dasharray="6 3.5"/>
<line x1="113.9" y1="854.1" x2="156" y2="885.7" stroke="#ed7d31" stroke-width="1.8" />
<polygon points="159.3,888.2 151.9,886.4 155.5,881.6" fill="#ed7d31"/>
<text x="125.7" y="906.6" font-size="14.7" text-anchor="start" font-weight="bold" fill="#111" >Evaluation route</text>
<line x1="92.8" y1="686.5" x2="149" y2="686.5" stroke="#000" stroke-width="2" />
<rect x="116.8" y="681.8" width="9.5" height="9.5" fill="none" stroke="#222" stroke-width="1.3"/>
<text x="155.2" y="695" font-size="24.9" text-anchor="start" font-weight="normal" fill="#000" >10mL/min</text>
<line x1="92.8" y1="717.3" x2="149" y2="717.3" stroke="#ff0a0a" stroke-width="2" />
<circle cx="121.4" cy="717.3" r="5.5" fill="none" stroke="#ff0a0a" stroke-width="1.4"/>
<text x="155.2" y="725.2" font-size="24.9" text-anchor="start" font-weight="normal" fill="#000" >20mL/min</text>
<line x1="92.8" y1="746.8" x2="149" y2="746.8" stroke="#0a0aff" stroke-width="2" />
<polygon points="121.4,739.6 127.4,750.4 115.4,750.4" fill="none" stroke="#0a0aff" stroke-width="1.5" stroke-linejoin="miter"/>
<text x="155.2" y="755.8" font-size="24.9" text-anchor="start" font-weight="normal" fill="#000" >30mL/min</text>
</svg>
</body></html>
